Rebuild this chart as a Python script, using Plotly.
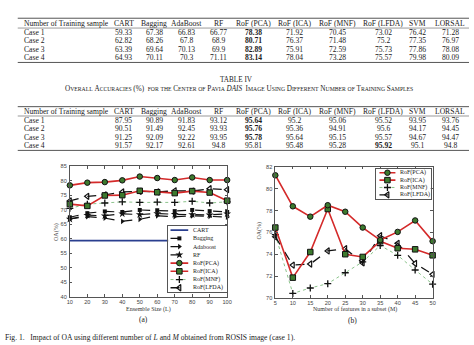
import plotly.graph_objects as go

W, H = 474, 345

# ---------------- table data ----------------
methods = ["CART", "Bagging", "AdaBoost", "RF", "RoF (PCA)", "RoF (ICA)",
           "RoF (MNF)", "RoF (LFDA)", "SVM", "LORSAL"]
cases = ["Case 1", "Case 2", "Case 3", "Case 4"]

t1_case1 = ["59.33", "67.38", "66.83", "66.77", "78.38", "71.92", "70.45", "73.02", "76.42", "71.28"]
t1_case2 = ["62.82", "68.26", "67.8", "68.9", "80.71", "76.37", "71.48", "75.2", "77.35", "76.97"]
t1_case3 = ["63.39", "69.64", "70.13", "69.9", "82.89", "75.91", "72.59", "75.73", "77.86", "78.08"]
t1_case4 = ["64.93", "70.11", "70.3", "71.11", "83.14", "78.04", "73.28", "75.57", "79.98", "80.09"]
t1_bold = [4, 4, 4, 4]

t2_case1 = ["87.95", "90.89", "91.83", "93.12", "95.64", "95.2", "95.06", "95.52", "93.95", "93.76"]
t2_case2 = ["90.51", "91.49", "92.45", "93.93", "95.76", "95.36", "94.91", "95.6", "94.17", "94.45"]
t2_case3 = ["91.25", "92.09", "92.22", "93.95", "95.78", "95.64", "95.15", "95.57", "94.67", "94.47"]
t2_case4 = ["91.57", "92.17", "92.61", "94.8", "95.81", "95.48", "95.28", "95.92", "95.1", "94.8"]
t2_bold = [4, 4, 4, 7]

# ---------------- plot (a) data ----------------
L = [10, 20, 30, 40, 50, 60, 70, 80, 90, 100]
cart_L = [59.33, 59.33, 59.33, 59.33, 59.33, 59.33, 59.33, 59.33, 59.33, 59.33]
bagging_L = [67.38, 68.8, 69.4, 69.2, 69.9, 69.8, 69.5, 69.9, 69.5, 69.2]
adaboost_L = [66.83, 67.6, 67.1, 66.0, 66.7, 67.9, 67.6, 67.9, 67.7, 67.4]
rf_L = [66.77, 68.1, 67.9, 68.6, 68.3, 68.7, 68.4, 68.3, 68.2, 68.6]
pca_L = [78.38, 79.3, 79.5, 80.1, 81.4, 80.9, 80.2, 81.1, 80.2, 80.2]
ica_L = [71.92, 71.3, 74.9, 75.0, 76.5, 76.0, 75.7, 76.4, 75.9, 73.1]
mnf_L = [70.45, 71.9, 72.3, 72.7, 72.5, 72.6, 72.5, 72.9, 72.3, 72.7]
lfda_L = [73.02, 74.6, 75.1, 76.1, 76.3, 76.1, 76.5, 76.4, 77.2, 76.9]

# ---------------- plot (b) data ----------------
M = [5, 10, 15, 20, 25, 30, 35, 40, 45, 50]
pca_M = [81.25, 78.4, 77.45, 78.5, 77.9, 76.45, 75.3, 76.05, 77.1, 75.2]
ica_M = [76.45, 71.85, 74.2, 78.15, 74.0, 73.75, 75.2, 74.55, 74.45, 73.9]
mnf_M = [75.8, 70.4, 70.9, 71.3, 72.3, 73.3, 74.8, 73.9, 72.55, 71.25]
lfda_M = [75.6, 73.0, 73.1, 74.3, 74.5, 73.2, 75.7, 75.0, 73.15, 72.15]

# ---------------- styles ----------------
RED = "#d42a2a"
GREEN = "#3d7a2e"
BLUE = "#2a3f8f"
BLK = "#111111"
MNFC = "#8cc48c"
styles = {
    "CART": dict(line=dict(color=BLUE, width=1.6), mode="lines", marker=dict()),
    "Bagging": dict(line=dict(color=BLK, width=1.2, dash="dash"), mode="lines+markers",
                    marker=dict(symbol="square", size=4, color=BLK)),
    "Adaboost": dict(line=dict(color=BLK, width=1.2, dash="dash"), mode="lines+markers",
                     marker=dict(symbol="triangle-right", size=5, color=BLK)),
    "RF": dict(line=dict(color=BLK, width=1.2, dash="dash"), mode="lines+markers",
               marker=dict(symbol="star", size=6, color=BLK)),
    "RoF(PCA)": dict(line=dict(color=RED, width=1.6), mode="lines+markers",
                     marker=dict(symbol="circle", size=5.5, color=GREEN, line=dict(color=BLK, width=1))),
    "RoF(ICA)": dict(line=dict(color=RED, width=1.6), mode="lines+markers",
                     marker=dict(symbol="square", size=5.5, color=GREEN, line=dict(color=BLK, width=1))),
    "RoF(MNF)": dict(line=dict(color=MNFC, width=1, dash="dot"), mode="lines+markers",
                     marker=dict(symbol="cross-thin", size=5, color=BLK, line=dict(color=BLK, width=1.3))),
    "RoF(LFDA)": dict(line=dict(color=BLK, width=1.3, dash="dash"), mode="lines+markers",
                      marker=dict(symbol="triangle-left-open", size=5.5, color=BLK, line=dict(color=BLK, width=1.2))),
}

def px(x):
    return x / W

def py(y):
    return 1 - y / H

fig = go.Figure()

def add_series(x, y, name, xa, ya):
    s = styles[name]
    fig.add_trace(go.Scatter(x=x, y=y, name=name, mode=s["mode"], line=s["line"],
                             marker=s["marker"], xaxis=xa, yaxis=ya, cliponaxis=False,
                             showlegend=False))

# plot (a)
add_series(L, cart_L, "CART", "x", "y")
add_series(L, bagging_L, "Bagging", "x", "y")
add_series(L, adaboost_L, "Adaboost", "x", "y")
add_series(L, rf_L, "RF", "x", "y")
add_series(L, mnf_L, "RoF(MNF)", "x", "y")
add_series(L, lfda_L, "RoF(LFDA)", "x", "y")
add_series(L, ica_L, "RoF(ICA)", "x", "y")
add_series(L, pca_L, "RoF(PCA)", "x", "y")

# plot (b)
add_series(M, mnf_M, "RoF(MNF)", "x2", "y2")
add_series(M, lfda_M, "RoF(LFDA)", "x2", "y2")
add_series(M, ica_M, "RoF(ICA)", "x2", "y2")
add_series(M, pca_M, "RoF(PCA)", "x2", "y2")

annotations = []

# hand-made legends (boxes are subplots x3/y3 and x4/y4)
legend_a = ["CART", "Bagging", "Adaboost", "RF", "RoF(PCA)", "RoF(ICA)", "RoF(MNF)", "RoF(LFDA)"]
legend_b = ["RoF(PCA)", "RoF(ICA)", "RoF(MNF)", "RoF(LFDA)"]

def add_legend(names, xa, ya, x0, x1, xt):
    for i, n in enumerate(names):
        s = styles[n]
        yy = i + 0.5
        fig.add_trace(go.Scatter(x=[x0, x1], y=[yy, yy], mode="lines", line=s["line"],
                                 xaxis=xa, yaxis=ya, showlegend=False, hoverinfo="skip"))
        if "markers" in s["mode"]:
            fig.add_trace(go.Scatter(x=[(x0 + x1) / 2], y=[yy], mode="markers", marker=s["marker"],
                                     xaxis=xa, yaxis=ya, showlegend=False, hoverinfo="skip",
                                     cliponaxis=False))
        annotations.append(dict(x=xt, y=yy, xref=xa, yref=ya, text=n, showarrow=False,
                                xanchor="left", yanchor="middle",
                                font=dict(family="Liberation Serif", size=6, color="#222")))

add_legend(legend_a, "x3", "y3", 0.04, 0.34, 0.39)
add_legend(legend_b, "x4", "y4", 0.07, 0.36, 0.41)

# ---------------- tables ----------------
col_x = [123, 154, 187, 219, 255, 297, 340, 387, 422, 455]
TF = dict(family="Liberation Serif", size=7.6, color="#1a1a1a")
shapes = []

def draw_table(rows, bold, y_top, y_head, y_mid, y_rows, y_bot):
    annotations.append(dict(x=px(19), y=py(y_head), xref="paper", yref="paper",
                            text="Number of Training sample", showarrow=False,
                            xanchor="left", yanchor="middle", font=TF))
    for cx, m in zip(col_x, methods):
        annotations.append(dict(x=px(cx), y=py(y_head), xref="paper", yref="paper", text=m,
                                showarrow=False, xanchor="center", yanchor="middle", font=TF))
    for r, (cname, vals) in enumerate(zip(cases, rows)):
        annotations.append(dict(x=px(19), y=py(y_rows[r]), xref="paper", yref="paper", text=cname,
                                showarrow=False, xanchor="left", yanchor="middle", font=TF))
        for c, (cx, v) in enumerate(zip(col_x, vals)):
            t = "<b>%s</b>" % v if c == bold[r] else v
            annotations.append(dict(x=px(cx), y=py(y_rows[r]), xref="paper", yref="paper", text=t,
                                    showarrow=False, xanchor="center", yanchor="middle", font=TF))
    for yy, w in [(y_top, 1.0), (y_mid, 0.6), (y_bot, 1.0)]:
        shapes.append(dict(type="line", xref="paper", yref="paper", x0=px(15), x1=px(474),
                           y0=py(yy), y1=py(yy), line=dict(color="#555", width=w)))

draw_table([t1_case1, t1_case2, t1_case3, t1_case4], t1_bold,
           15.5, 21, 25.5, [30, 38.5, 47, 55.5], 60.5)
draw_table([t2_case1, t2_case2, t2_case3, t2_case4], t2_bold,
           105.5, 110.5, 115, [119.5, 128, 136.5, 145], 150)

def smallcaps(s, big=7.2, small=5.7):
    out = ""
    for ch in s:
        if ch.islower():
            out += '<span style="font-size:%spx">%s</span>' % (small, ch.upper())
        elif ch == " ":
            out += "\u00a0"
        else:
            out += '<span style="font-size:%spx">%s</span>' % (big, ch)
    return out

caption = (smallcaps("Overall Accuracies (%)  for the Center of Pavia ") +
           '<i><span style="font-size:7.2px">DAIS</span></i>' +
           smallcaps("  Image Using Different Number of Training Samples"))
annotations.append(dict(x=px(237), y=py(78.5), xref="paper", yref="paper",
                        text=smallcaps("TABLE IV", 7.2, 7.2), showarrow=False,
                        xanchor="center", yanchor="middle",
                        font=dict(family="Liberation Serif", size=7.2, color="#222")))
annotations.append(dict(x=px(240), y=py(88), xref="paper", yref="paper", text=caption,
                        showarrow=False, xanchor="center", yanchor="middle",
                        font=dict(family="Liberation Serif", size=7, color="#222")))

# axis titles and sub-captions
LF = dict(family="Liberation Serif", size=6, color="#333")
annotations += [
    dict(x=px(55), y=py(233), xref="paper", yref="paper", text="OA(%)", textangle=-90,
         showarrow=False, xanchor="center", yanchor="middle", font=LF),
    dict(x=px(148), y=py(311.5), xref="paper", yref="paper", text="Ensemble Size (L)",
         showarrow=False, xanchor="center", yanchor="middle", font=LF),
    dict(x=px(143), y=py(322.5), xref="paper", yref="paper", text="(a)",
         showarrow=False, xanchor="center", yanchor="middle",
         font=dict(family="Liberation Serif", size=7.5, color="#222")),
    dict(x=px(261), y=py(232), xref="paper", yref="paper", text="OA(%)", textangle=-90,
         showarrow=False, xanchor="center", yanchor="middle", font=LF),
    dict(x=px(358), y=py(312), xref="paper", yref="paper", text="Number of features in a subset (M)",
         showarrow=False, xanchor="center", yanchor="middle", font=LF),
    dict(x=px(355), y=py(323.5), xref="paper", yref="paper", text="(b)",
         showarrow=False, xanchor="center", yanchor="middle",
         font=dict(family="Liberation Serif", size=7.5, color="#222")),
    dict(x=px(0), y=py(340.5), xref="paper", yref="paper",
         text="Fig. 1.\u00a0\u00a0\u00a0Impact of OA using different number of <i>L</i> and <i>M</i> obtained from ROSIS image (case 1).",
         showarrow=False, xanchor="left", yanchor="middle",
         font=dict(family="Liberation Serif", size=7.6, color="#1a1a1a")),
]

TICKF = dict(family="Liberation Sans", size=5.6, color="#444")
ax_common = dict(showline=True, linecolor="#555", linewidth=0.8, mirror="ticks", ticks="inside",
                 ticklen=2.5, tickcolor="#555", tickwidth=0.7, showgrid=False, zeroline=False,
                 tickfont=TICKF, fixedrange=True)
box_common = dict(showline=True, linecolor="#555", linewidth=0.8, mirror=True, ticks="",
                  showticklabels=False, showgrid=False, zeroline=False, fixedrange=True)

fig.update_layout(
    width=W, height=H,
    margin=dict(l=0, r=0, t=0, b=0),
    paper_bgcolor="white", plot_bgcolor="white",
    showlegend=False,
    xaxis=dict(domain=[px(68), px(228)], range=[10, 100], tickvals=L, anchor="y", ticklabelstandoff=0, **ax_common),
    yaxis=dict(domain=[py(299), py(166)], range=[40, 85], dtick=5, anchor="x", ticklabelstandoff=1, **ax_common),
    xaxis2=dict(domain=[px(277), px(437)], range=[5, 50], tickvals=M, anchor="y2", ticklabelstandoff=0, **ax_common),
    yaxis2=dict(domain=[py(300), py(167)], range=[70, 82], dtick=2, anchor="x2", ticklabelstandoff=1, **ax_common),
    xaxis3=dict(domain=[px(168), px(228)], range=[0, 1], anchor="y3", **box_common),
    yaxis3=dict(domain=[py(294), py(227)], range=[8, 0], anchor="x3", **box_common),
    xaxis4=dict(domain=[px(379), px(435)], range=[0, 1], anchor="y4", **box_common),
    yaxis4=dict(domain=[py(199), py(169)], range=[4, 0], anchor="x4", **box_common),
    annotations=annotations,
    shapes=shapes,
)

fig.write_html("out.html")
